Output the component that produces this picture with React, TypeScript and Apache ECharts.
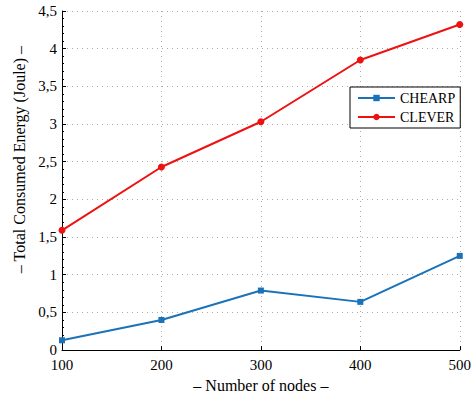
import React, { useEffect, useRef } from "react";
import * as echarts from "echarts";

const nodes = [100, 200, 300, 400, 500];
const chearp = [0.13, 0.4, 0.79, 0.64, 1.25];
const clever = [1.59, 2.43, 3.03, 3.85, 4.32];

const FONT = "Liberation Serif";

export default function App() {
  const ref = useRef<HTMLDivElement>(null);
  useEffect(() => {
    const chart = echarts.init(ref.current!, null, { renderer: "svg" });
    chart.setOption({
      animation: false,
      backgroundColor: "#fff",
      textStyle: { fontFamily: FONT },
      grid: { left: 62, right: 12, top: 11, bottom: 46 },
      legend: {
        orient: "vertical",
        left: 350,
        top: 87,
        padding: [4, 5, 4, 7],
        itemGap: 5,
        itemWidth: 37,
        itemHeight: 8,
        borderColor: "#000",
        borderWidth: 1,
        backgroundColor: "#fff",
        textStyle: { fontFamily: FONT, fontSize: 14, color: "#000" },
        data: ["CHEARP", "CLEVER"],
      },
      xAxis: {
        type: "value",
        min: 100,
        max: 500,
        interval: 100,
        name: "– Number of nodes –",
        nameLocation: "middle",
        nameGap: 24,
        nameTextStyle: { fontFamily: FONT, fontSize: 16, color: "#000" },
        axisLine: { lineStyle: { color: "#000", width: 1 } },
        axisTick: { inside: true, length: 4, lineStyle: { color: "#000" } },
        minorTick: { show: false },
        axisLabel: { fontFamily: FONT, fontSize: 15, color: "#000", margin: 7 },
        splitLine: { lineStyle: { color: "#aaa", type: [1, 4] } },
      },
      yAxis: {
        type: "value",
        min: 0,
        max: 4.5,
        interval: 0.5,
        name: "– Total Consumed Energy (Joule) –",
        nameLocation: "middle",
        nameGap: 35,
        nameTextStyle: { fontFamily: FONT, fontSize: 16, color: "#000", padding: [0, 0, 0, 42] },
        axisLine: { show: true, lineStyle: { color: "#000", width: 1 } },
        axisTick: { show: true, inside: true, length: 4, lineStyle: { color: "#000" } },
        minorTick: { show: true, splitNumber: 5, length: 2, lineStyle: { color: "#000" } },
        axisLabel: {
          fontFamily: FONT,
          fontSize: 15,
          color: "#000",
          margin: 5,
          formatter: (v: number) => String(v).replace(".", ","),
        },
        splitLine: { lineStyle: { color: "#aaa", type: [1, 4] } },
      },
      series: [
        {
          name: "CHEARP",
          type: "line",
          data: nodes.map((x, i) => [x, chearp[i]]),
          symbol: "rect",
          symbolSize: 6,
          color: "#1a72b8",
          lineStyle: { width: 2, color: "#1a72b8" },
          itemStyle: { color: "#1a72b8" },
        },
        {
          name: "CLEVER",
          type: "line",
          data: nodes.map((x, i) => [x, clever[i]]),
          symbol: "circle",
          symbolSize: 7,
          color: "#ee1111",
          lineStyle: { width: 2, color: "#ee1111" },
          itemStyle: { color: "#ee1111" },
        },
      ],
    });
    return () => chart.dispose();
  }, []);
  return <div ref={ref} style={{ width: 474, height: 398, position: "absolute", left: 0, top: 0 }} />;
}
